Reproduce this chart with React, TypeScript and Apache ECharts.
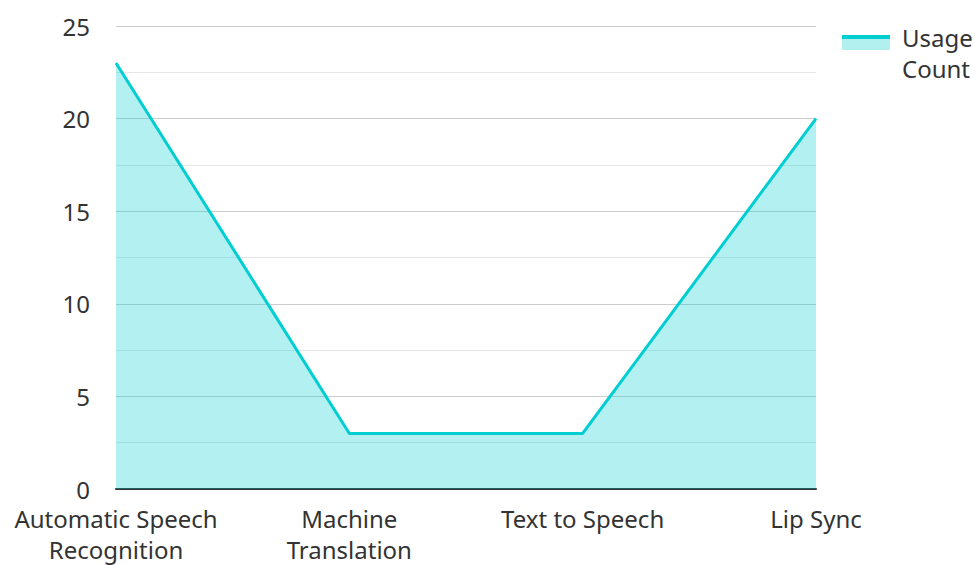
import React, { useEffect, useRef } from "react";
import * as echarts from "echarts";

const categories = ["Automatic Speech\nRecognition", "Machine\nTranslation", "Text to Speech", "Lip Sync"];
const usageCount = [23, 3, 3, 20];
const seriesName = "Usage\nCount";

export default function App() {
  const ref = useRef<HTMLDivElement>(null);
  useEffect(() => {
    if (!ref.current) return;
    const chart = echarts.init(ref.current, undefined, { renderer: "svg" });
    const font = "'Noto Sans', 'Open Sans', sans-serif";
    chart.setOption({
      animation: false,
      textStyle: { fontFamily: font },
      grid: { left: 116, width: 700, top: 26, height: 466 },
      xAxis: {
        type: "category",
        data: categories,
        boundaryGap: false,
        axisLine: { lineStyle: { color: "#333", width: 2 } },
        axisTick: { show: false },
        axisLabel: {
          interval: 0,
          hideOverlap: false,
          fontSize: 24,
          color: "#333",
          margin: 14,
          lineHeight: 31,
          fontFamily: font,
        },
        splitLine: { show: false },
      },
      yAxis: {
        type: "value",
        min: 0,
        max: 25,
        interval: 5,
        axisLine: { show: false },
        axisTick: { show: false },
        axisLabel: { fontSize: 24, color: "#333", margin: 26, fontFamily: font },
        splitLine: { lineStyle: { color: "#cccccc", width: 1 } },
        minorTick: { show: false, splitNumber: 2 },
        minorSplitLine: { show: true, lineStyle: { color: "#e6e6e6", width: 1 } },
      },
      series: [
        {
          name: seriesName,
          type: "line",
          data: usageCount,
          symbol: "none",
          lineStyle: { color: "#00CED1", width: 3 },
          itemStyle: { color: "#00CED1" },
          areaStyle: { color: "#00CED1", opacity: 0.3 },
        },
      ],
      graphic: [
        { type: "rect", shape: { x: 842, y: 36, width: 48, height: 14 }, style: { fill: "#b2efef" } },
        { type: "rect", shape: { x: 842, y: 35, width: 48, height: 4 }, style: { fill: "#00CED1" } },
        {
          type: "text",
          x: 902,
          y: 22,
          style: { text: seriesName, fontSize: 24, lineHeight: 31, fill: "#333", fontFamily: font },
        },
      ],
    });
    return () => chart.dispose();
  }, []);
  return <div ref={ref} style={{ position: "absolute", left: 0, top: 0, width: 975, height: 565 }} />;
}
